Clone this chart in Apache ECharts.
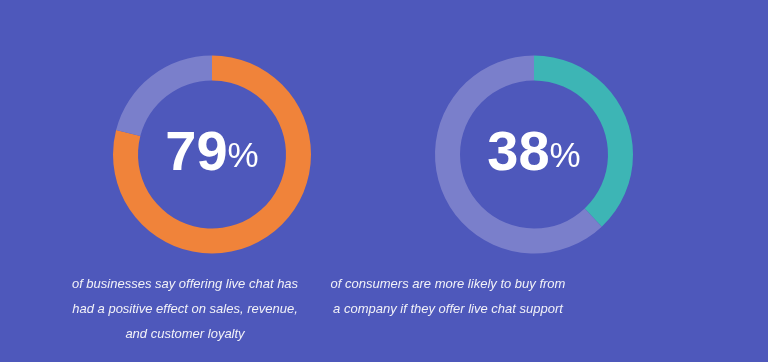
<!DOCTYPE html>
<html>
<head>
<meta charset="utf-8">
<script src="https://cdn.jsdelivr.net/npm/echarts@6/dist/echarts.min.js"></script>
<style>html,body{margin:0;padding:0;background:#4E58BB;}#c{width:768px;height:362px;}</style>
</head>
<body>
<div id="c"></div>
<script>
const percentages = [79, 38];
const accentColors = ['#F0833A', '#3DB5B5'];
const captions = [
  'of businesses say offering live chat has\nhad a positive effect on sales, revenue,\nand customer loyalty',
  'of consumers are more likely to buy from\na company if they offer live chat support'
];

const centersX = [212, 534];
const captionX = [185, 448];
const chart = echarts.init(document.getElementById('c'));
const series = percentages.map((v, i) => ({
  type: 'pie',
  center: [centersX[i], 154.5],
  radius: [74, 99],
  startAngle: 90,
  clockwise: true,
  silent: true,
  animation: false,
  avoidLabelOverlap: false,
  labelLine: { show: false },
  label: { show: false },
  emphasis: { disabled: true },
  data: [
    {
      value: v,
      itemStyle: { color: accentColors[i] },
      label: {
        show: true,
        position: 'center',
        formatter: '{n|' + v + '}{p|%}',
        rich: {
          n: { fontFamily: 'Liberation Sans, Arial', fontWeight: 'bold', fontSize: 56, color: '#ffffff' },
          p: { fontFamily: 'Liberation Sans, Arial', fontWeight: 'normal', fontSize: 35, color: '#ffffff', padding: [6, 0, 0, 0] }
        }
      }
    },
    { value: 100 - v, itemStyle: { color: '#7A7FCB' }, label: { show: false } }
  ]
}));

chart.setOption({
  backgroundColor: '#4E58BB',
  animation: false,
  series: series,
  graphic: captions.map((t, i) => ({
    type: 'text',
    x: captionX[i],
    y: 272,
    style: {
      text: t,
      fill: '#F2F2F8',
      font: 'italic 13px "Liberation Sans", Arial',
      textAlign: 'center',
      align: 'center',
      verticalAlign: 'top',
      lineHeight: 25
    }
  }))
});
</script>
</body>
</html>
